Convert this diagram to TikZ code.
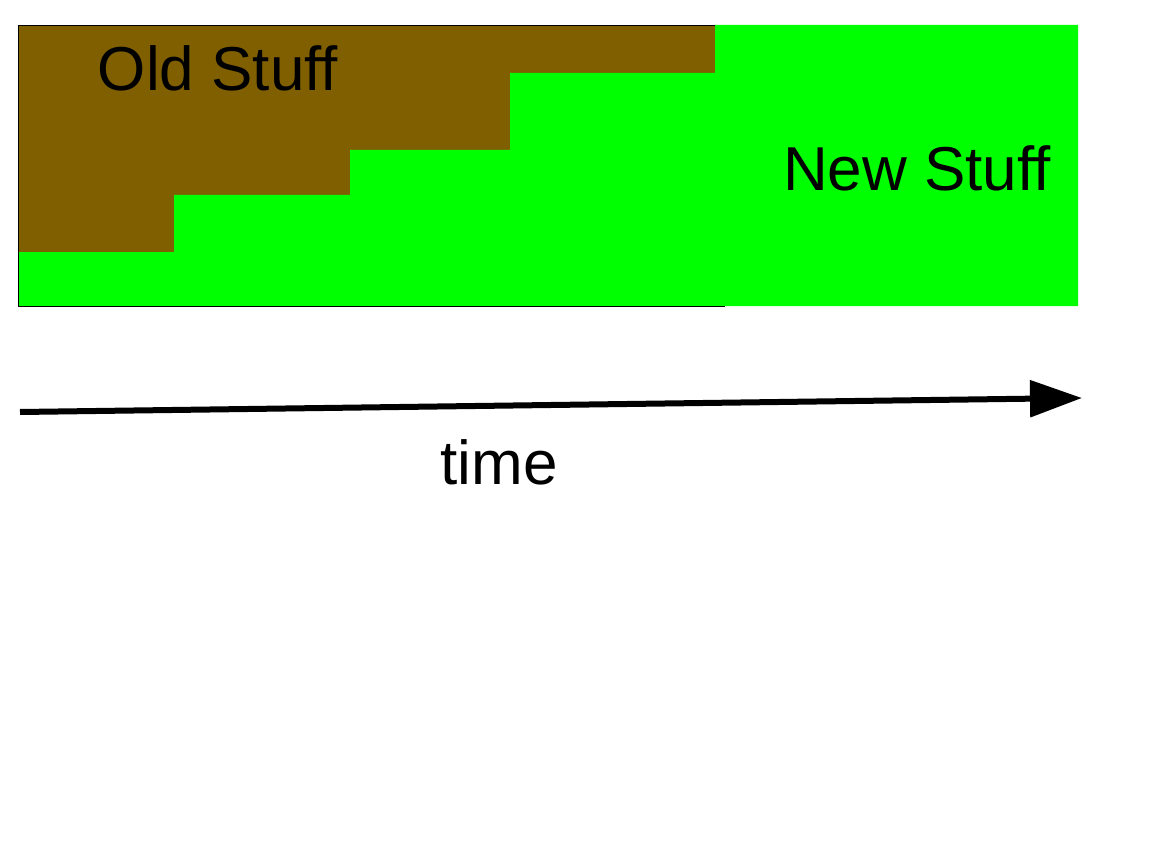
\documentclass[tikz,border=0pt]{standalone}
\usepackage{fontspec}
\setmainfont{Liberation Sans}
\usetikzlibrary{arrows.meta}
\definecolor{oldc}{HTML}{7F5F00}
\definecolor{newc}{HTML}{00FF00}
\tikzset{lbl/.style={inner sep=0pt,font=\fontsize{62}{70}\selectfont}}
\begin{document}
\begin{tikzpicture}[x=1pt,y=-1pt]
\useasboundingbox (0,0) rectangle (1152,864);
\fill[white] (0,0) rectangle (1152,864);
\fill[oldc] (18,25) rectangle (725,306);
\fill[newc] (18,306) -- (18,252) -- (174,252) -- (174,195) -- (350,195) -- (350,150) -- (510,150) -- (510,73) -- (715,73) -- (715,25) -- (1078,25) -- (1078,306) -- cycle;
\draw[black,line width=0.6pt] (715,25) -- (18,25) -- (18,306) -- (725,306);
\node[lbl] (old) at (218,68) {Old Stuff};
\node[lbl] (new) at (917,168) {New Stuff};
\coordinate (a) at (20,412);
\coordinate (b) at (1082,398);
\draw[line width=6pt,-{Triangle[length=52pt,width=36pt]}] (a) -- (b);
\node[lbl] (time) at (499,462) {time};
\end{tikzpicture}
\end{document}
